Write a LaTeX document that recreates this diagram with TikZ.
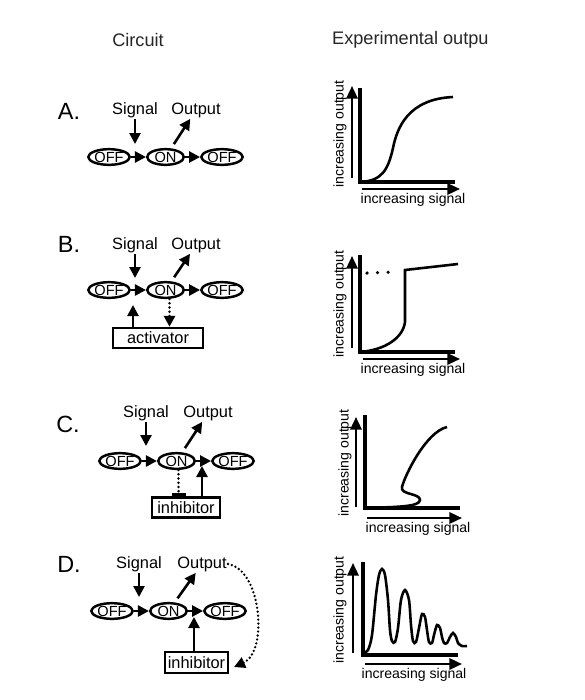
\documentclass[tikz,border=0pt]{standalone}
\usepackage{fontspec}
\setmainfont{Liberation Sans}
\usetikzlibrary{arrows.meta, shapes.geometric, positioning}

\begin{document}
\begin{tikzpicture}[
  x=0.03cm, y=-0.03cm,
  colhead/.style={font=\fontsize{15.5}{18}\selectfont, text=black!85},
  panel/.style={font=\fontsize{20}{23}\selectfont},
  lbl/.style={font=\fontsize{14}{16}\selectfont, inner sep=1pt},
  state/.style={ellipse, draw, line width=2.1pt, minimum width=1.1cm, minimum height=0.47cm, inner sep=0pt, font=\fontsize{12.5}{14}\selectfont},
  regbox/.style={rectangle, draw, line width=2.1pt, inner sep=1.5pt, font=\fontsize{14}{16}\selectfont},
  link/.style={line width=2.2pt, -{Triangle[length=0.33cm, width=0.33cm]}},
  dotlink/.style={line width=2.4pt, dash pattern=on 0pt off 3.6pt, line cap=round},
  axline/.style={line width=3.3pt},
  axarrow/.style={line width=2pt, -{Triangle[length=0.38cm, width=0.34cm]}},
  axlbl/.style={font=\fontsize{12}{14}\selectfont, inner sep=0pt},
  curve/.style={line width=2.2pt}
]
  \useasboundingbox (0,0) rectangle (584,700);

  \node[colhead] (hcirc) at (138,40) {Circuit};
  \node[colhead, anchor=west] (hexp) at (328,40) {Experimental outpu};

  % A: plain switch
  \node[panel] (labA) at (69,111) {A.};
  \node[lbl] (sigA) at (135,110) {Signal};
  \node[lbl] (outA) at (196,110) {Output};
  \node[state] (offA1) at (109,157) {OFF};
  \node[state, right=0.45cm of offA1] (onA) {ON};
  \node[state, right=0.45cm of onA] (offA2) {OFF};
  \coordinate (sigAend) at (135,144);
  \draw[link] (sigA) -- (sigAend);
  \draw[link, shorten <=0.15cm] (onA) -- (outA);
  \draw[link] (offA1) -- (onA);
  \draw[link] (onA) -- (offA2);

  \draw[axline] (360,88) -- (360,182) -- (455,182);
  \draw[axarrow] (352,178) -- (352,86);
  \draw[axarrow] (362,189) -- (460,189);
  \node[axlbl, rotate=90] (yA) at (340,134) {increasing output};
  \node[axlbl] (xA) at (413,200) {increasing signal};
  \draw[curve] (360,182) .. controls (382,181) and (388,170) .. (393,148)
    .. controls (397,128) and (408,99) .. (453,97);

  % B: positive feedback
  \node[panel] (labB) at (69,244) {B.};
  \node[lbl] (sigB) at (135,245) {Signal};
  \node[lbl] (outB) at (196,245) {Output};
  \node[state] (offB1) at (109,290) {OFF};
  \node[state, right=0.45cm of offB1] (onB) {ON};
  \node[state, right=0.45cm of onB] (offB2) {OFF};
  \node[regbox, minimum width=2.7cm, minimum height=0.6cm] (actB) at (158,338) {activator};
  \coordinate (sigBend) at (135,278);
  \coordinate (actBend) at (133,305);
  \draw[link] (sigB) -- (sigBend);
  \draw[link, shorten <=0.15cm] (onB) -- (outB);
  \draw[link] (offB1) -- (onB);
  \draw[link] (onB) -- (offB2);
  \draw[link] (actB.north -| actBend) -- (actBend);
  \draw[dotlink, -{Triangle[length=0.33cm, width=0.33cm]}] ([xshift=0.12cm]onB.south) -- ([xshift=0.12cm]onB.south |- actB.north);

  \draw[axline] (360,255) -- (360,352) -- (455,352);
  \draw[axarrow] (352,348) -- (352,256);
  \draw[axarrow] (363,359) -- (460,359);
  \node[axlbl, rotate=90] (yB) at (340,304) {increasing output};
  \node[axlbl] (xB) at (413,370) {increasing signal};
  \draw[curve] (360,352) .. controls (385,350) and (403,338) .. (405,322) -- (405,270) -- (458,264);
  \draw[line width=3pt, line cap=round, dash pattern=on 0pt off 9pt] (367,273) -- (398,272);

  % C: negative feedback
  \node[panel] (labC) at (68,424) {C.};
  \node[lbl] (sigC) at (146,413) {Signal};
  \node[lbl] (outC) at (208,413) {Output};
  \node[state] (offC1) at (120,461) {OFF};
  \node[state, right=0.45cm of offC1] (onC) {ON};
  \node[state, right=0.45cm of onC] (offC2) {OFF};
  \node[regbox, minimum width=2.04cm, minimum height=0.6cm] (inhC) at (186,507.5) {inhibitor};
  \coordinate (sigCend) at (146,446);
  \coordinate (inhCend) at (202,466);
  \draw[link] (sigC) -- (sigCend);
  \draw[link, shorten <=0.15cm] (onC) -- (outC);
  \draw[link] (offC1) -- (onC);
  \draw[link] (onC) -- (offC2);
  \draw[link] (inhC.north -| inhCend) -- (inhCend);
  \draw[dotlink, -{Bar[width=0.42cm, line width=2.4pt]}] ([xshift=0.06cm]onC.south) -- ([xshift=0.06cm]onC.south |- inhC.north);

  \draw[axline] (365,415) -- (365,508) -- (460,508);
  \draw[axarrow] (356,507) -- (356,417);
  \draw[axarrow] (367,518) -- (462,518);
  \node[axlbl, rotate=90] (yC) at (345,463) {increasing output};
  \node[axlbl] (xC) at (418,529) {increasing signal};
  \draw[curve] (365,508) .. controls (395,507) and (420,507) .. (420,500)
    .. controls (420,493) and (400,495) .. (402,487)
    .. controls (405,475) and (426,432) .. (447,427);

  % D: delayed negative feedback
  \node[panel] (labD) at (69,564) {D.};
  \node[lbl] (sigD) at (139,564) {Signal};
  \node[lbl] (outD) at (202,564) {Output};
  \node[state] (offD1) at (112,611) {OFF};
  \node[state, right=0.45cm of offD1] (onD) {ON};
  \node[state, right=0.45cm of onD] (offD2) {OFF};
  \node[regbox, minimum width=1.89cm, minimum height=0.63cm] (inhD) at (196.5,662.5) {inhibitor};
  \coordinate (sigDend) at (139,597);
  \coordinate (inhDend) at (194,617);
  \coordinate (inhDin) at (234,667);
  \draw[link] (sigD) -- (sigDend);
  \draw[link, shorten <=0.15cm] (onD) -- (outD);
  \draw[link] (offD1) -- (onD);
  \draw[link] (onD) -- (offD2);
  \draw[link] (inhD.north -| inhDend) -- (inhDend);
  \draw[dotlink, line width=2.2pt, dash pattern=on 0pt off 3.4pt, -{Triangle[length=0.33cm, width=0.33cm]}] (outD.east) .. controls (262,570) and (268,652) .. (inhDin);

  \draw[axline] (363,562) -- (363,655) -- (458,655);
  \draw[axarrow] (353,653) -- (353,563);
  \draw[axarrow] (365,664) -- (462,664);
  \node[axlbl, rotate=90] (yD) at (340,610) {increasing output};
  \node[axlbl] (xD) at (414,675) {increasing signal};
  \draw[curve] plot[smooth, tension=0.5] coordinates {(363,654) (368,650) (372,635) (376,595) (379,575)
    (382,569) (385,575) (388,600) (390,630) (392,641) (395,642) (398,628) (401,600) (405,590)
    (409,600) (411,625) (413,641) (416,642) (419,628) (422,614) (425,617) (427,630) (429,642)
    (432,643) (434,635) (437,625) (440,628) (442,637) (444,643) (447,643) (450,637) (453,633)
    (456,637) (458,643) (462,646) (467,646)};
\end{tikzpicture}
\end{document}
